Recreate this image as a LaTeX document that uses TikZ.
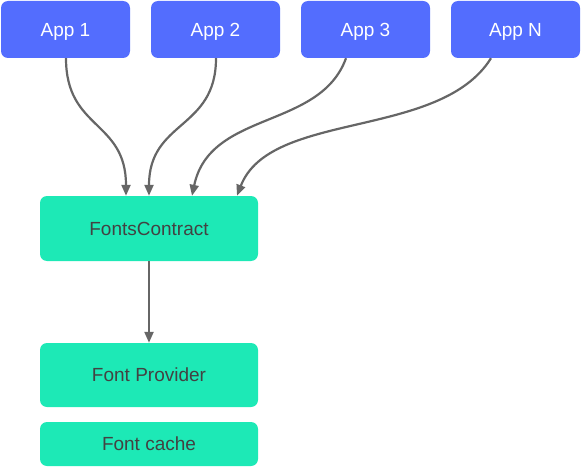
\documentclass[tikz,border=0pt]{standalone}
\usepackage{fontspec}
\setmainfont{Liberation Sans}
\usetikzlibrary{arrows.meta}
\definecolor{appblue}{HTML}{536DFE}
\definecolor{libgreen}{HTML}{1DE9B6}
\definecolor{linkgray}{HTML}{666666}
\definecolor{textgray}{HTML}{424242}
\tikzset{
  app/.style={fill=appblue, rounded corners=7pt, minimum width=129pt, minimum height=57pt, text depth=0pt, text=white, font=\fontsize{19}{22}\selectfont},
  lib/.style={fill=libgreen, rounded corners=7pt, minimum width=218pt, text depth=0pt, text=textgray, font=\fontsize{19}{22}\selectfont},
  link/.style={draw=linkgray, line width=2.2pt, -{Triangle[length=11pt,width=9pt]}}
}

\begin{document}
\begin{tikzpicture}[x=1pt, y=-1pt]
				\useasboundingbox (0,0) rectangle (581,468);
				\node[app] (A1)at(65.5, 29.5) {App 1};
				\node[app] (A2)at(215.5, 29.5) {App 2};
				\node[app] (A3)at(365.5, 29.5) {App 3};
				\node[app] (AN)at(515.5, 29.5) {App N};
				\node[lib, minimum height=65pt] (FC)at(149, 228.5) {FontsContract};
				\node[lib, minimum height=64pt] (FP)at(149, 375) {Font Provider};
				\node[lib, minimum height=44pt] (CA)at(149, 444) {Font cache};
				\draw[link] ([xshift=0.5pt]A1.south) .. controls (66, 130) and (126, 120) .. ([xshift=-23pt]FC.north);
				\draw[link] ([xshift=0.5pt]A2.south) .. controls (216, 130) and (149, 120) .. (FC.north);
				\draw[link] ([xshift=-19.5pt]A3.south) .. controls (320, 130) and (210, 110) .. ([xshift=43pt]FC.north);
				\draw[link] ([xshift=-24.5pt]AN.south) .. controls (440, 140) and (270, 110) .. ([xshift=88pt]FC.north);
				\draw[link] (FC) -- (FP);
			\end{tikzpicture}
\end{document}
